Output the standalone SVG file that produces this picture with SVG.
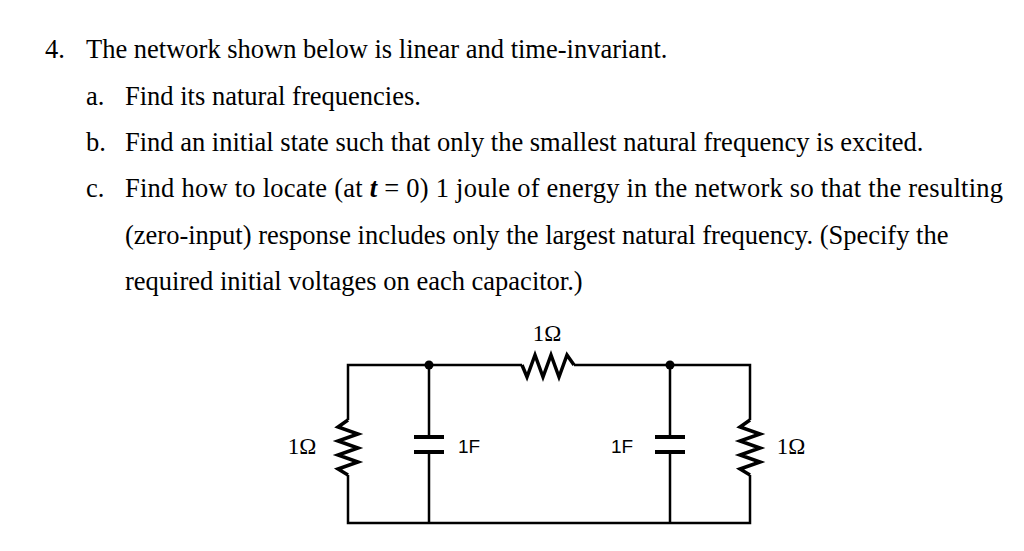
<svg xmlns="http://www.w3.org/2000/svg" width="1024" height="551" viewBox="0 0 1024 551">
<style>
.t{font-family:"Liberation Serif",serif;font-size:26.5px;fill:#000}
.l{font-family:"Liberation Sans",sans-serif;font-size:19px;fill:#000}
.o{font-family:"Liberation Serif",serif;font-size:23px;fill:#000}
.w{stroke:#000;stroke-width:2.5;fill:none}
.z{stroke:#000;stroke-width:3.5;fill:none;stroke-linejoin:miter}
.p{stroke:#000;stroke-width:4}
</style>
<rect width="1024" height="551" fill="#fff"/>
<text class="t" x="45" y="58">4.</text>
<text class="t" x="86" y="58">The network shown below is linear and time-invariant.</text>
<text class="t" x="86" y="105">a.</text>
<text class="t" x="125" y="105">Find its natural frequencies.</text>
<text class="t" x="86" y="151">b.</text>
<text class="t" x="125" y="151">Find an initial state such that only the smallest natural frequency is excited.</text>
<text class="t" x="86" y="197">c.</text>
<text class="t" x="125" y="197" textLength="878" lengthAdjust="spacing">Find how to locate (at <tspan font-style="italic" font-weight="bold">t</tspan>  =  0) 1 joule of energy in the network so that the resulting</text>
<text class="t" x="125" y="244">(zero-input) response includes only the largest natural frequency. (Specify the</text>
<text class="t" x="125" y="290">required initial voltages on each capacitor.)</text>
<g id="connectors">
<path class="w" d="M348 420 V365 H522 M574 365 H750 V420 M348 475 V523 H750 V475 M429 365 V437 M429 452 V523 M670 365 V437 M670 452 V523"/>
</g>
<g id="dots"><circle cx="429" cy="365" r="4.5"/><circle cx="670" cy="365" r="4.5"/></g>
<g id="R_top"><path class="z" d="M522 365 L527 377 L535 355 L543 377 L551 355 L559 377 L567 355 L574 365"/><text class="o" x="547" y="341" text-anchor="middle">1Ω</text></g>
<g id="R_left"><path class="z" d="M348 420 L338 427 L358 434 L338 441 L358 448 L338 455 L358 462 L338 469 L348 475"/><text class="o" x="302" y="454" text-anchor="middle">1Ω</text></g>
<g id="R_right"><path class="z" d="M750 420 L740 427 L760 434 L740 441 L760 448 L740 455 L760 462 L740 469 L750 475"/><text class="o" x="791" y="454" text-anchor="middle">1Ω</text></g>
<g id="C_left"><line class="p" x1="414" y1="437" x2="444" y2="437"/><line class="p" x1="414" y1="452" x2="444" y2="452"/><text class="l" x="458" y="453">1F</text></g>
<g id="C_right"><line class="p" x1="655" y1="437" x2="685" y2="437"/><line class="p" x1="655" y1="452" x2="685" y2="452"/><text class="l" x="611" y="453">1F</text></g>
</svg>
